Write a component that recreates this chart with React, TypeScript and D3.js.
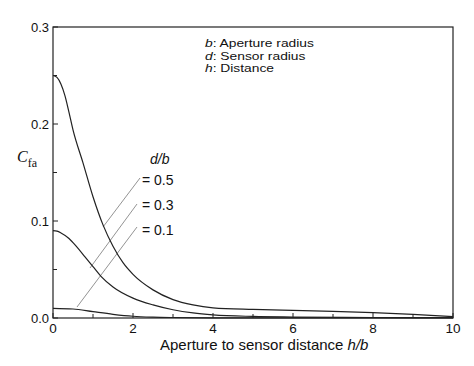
import React from "react";
import * as d3 from "d3";

const hA = [0, 0.1, 0.2, 0.3, 0.4, 0.5, 0.75, 1.0, 1.25, 1.5, 1.75, 2.0, 2.5, 3.0, 3.5, 4.0, 5, 6, 7, 8, 9, 10];
const c05 = [0.25, 0.248, 0.241, 0.229, 0.212, 0.194, 0.16, 0.125, 0.096, 0.074, 0.057, 0.045, 0.029, 0.019, 0.0135, 0.0105, 0.0088, 0.0078, 0.0068, 0.0056, 0.0038, 0.0015];
const hB = [0, 0.1, 0.2, 0.4, 0.6, 0.8, 1.0, 1.2, 1.5, 2.0, 2.5, 3.0, 3.5, 4, 5, 6, 8, 10];
const c03 = [0.09, 0.0895, 0.0877, 0.082, 0.073, 0.063, 0.053, 0.043, 0.032, 0.0205, 0.0135, 0.0085, 0.0052, 0.0032, 0.0016, 0.001, 0.0005, 0.0003];
const hC = [0, 0.5, 1.0, 1.5, 2.0, 2.5, 3.0, 4.0, 6, 10];
const c01 = [0.01, 0.0093, 0.0065, 0.0038, 0.0018, 0.0009, 0.0005, 0.0002, 0.0001, 0];
const xTicks = [0, 2, 4, 6, 8, 10];
const xMinor = [1, 3, 5, 7, 9];
const yTicks = [0, 0.1, 0.2, 0.3];
const yMinor = [0.05, 0.15, 0.25];
const legendLines = [["b", ": Aperture radius"], ["d", ": Sensor radius"], ["h", ": Distance"]];
const ratioLabels = ["= 0.5", "= 0.3", "= 0.1"];

export default function App() {
  const W = 474, H = 366;
  const L = 53, R = 453, T = 27, B = 318;
  const x = d3.scaleLinear().domain([0, 10]).range([L, R]);
  const y = d3.scaleLinear().domain([0, 0.3]).range([B, T]);
  const line = d3.line<number>().curve(d3.curveMonotoneX);
  const mk = (hs: number[], vs: number[]) => line(hs.map((h, i) => [x(h), y(vs[i])] as any) as any) || "";
  const font = "'Liberation Sans', Arial, Helvetica, sans-serif";
  const leaders = [
    [[140, 178], [103, 227]],
    [[137, 204], [90, 268]],
    [[137, 227], [77, 307]],
  ];
  return (
    <svg width={W} height={H} style={{ position: "absolute", left: 0, top: 0, background: "#fff" }} fontFamily={font}>
      <rect x={0} y={0} width={W} height={H} fill="#fff" />
      <rect x={L} y={T} width={R - L} height={B - T} fill="none" stroke="#222" strokeWidth={1.2} />
      {xTicks.map((t) => (
        <g key={"xt" + t}>
          <line x1={x(t)} x2={x(t)} y1={B} y2={B - 5} stroke="#222" />
          <text x={x(t)} y={333} fontSize={13.5} textAnchor="middle" fill="#111">{t}</text>
        </g>
      ))}
      {xMinor.map((t) => (
        <line key={"xm" + t} x1={x(t)} x2={x(t)} y1={B} y2={B - 4} stroke="#222" />
      ))}
      {yTicks.map((t) => (
        <g key={"yt" + t}>
          <line x1={L} x2={L + 5} y1={y(t)} y2={y(t)} stroke="#222" />
          <text x={49} y={y(t) + 4.5} fontSize={13} textAnchor="end" fill="#111">{t.toFixed(1)}</text>
        </g>
      ))}
      {yMinor.map((t) => (
        <line key={"ym" + t} x1={L} x2={L + 4} y1={y(t)} y2={y(t)} stroke="#222" />
      ))}
      {leaders.map((p, i) => (
        <line key={"ld" + i} x1={p[0][0]} y1={p[0][1]} x2={p[1][0]} y2={p[1][1]} stroke="#777" strokeWidth={0.8} />
      ))}
      <path d={mk(hA, c05)} fill="none" stroke="#222" strokeWidth={1.2} />
      <path d={mk(hB, c03)} fill="none" stroke="#222" strokeWidth={1.2} />
      <path d={mk(hC, c01)} fill="none" stroke="#222" strokeWidth={1.2} />
      {legendLines.map((l, i) => (
        <g key={"lg" + i} transform={`translate(205,${47 + i * 12.5}) scale(1.17,1)`}>
          <text x={0} y={0} fontSize={11.8} fill="#111">
            <tspan fontStyle="italic">{l[0]}</tspan>
            <tspan>{l[1]}</tspan>
          </text>
        </g>
      ))}
      <text x={150} y={164} fontSize={14} fontStyle="italic" fill="#111">d/b</text>
      {ratioLabels.map((s, i) => (
        <text key={"rl" + i} x={142} y={185 + i * 25} fontSize={14} fill="#111">{s}</text>
      ))}
      <text x={160} y={350} fontSize={15} fill="#111">
        <tspan>Aperture to sensor distance </tspan>
        <tspan fontStyle="italic">h/b</tspan>
      </text>
      <text x={17} y={162} fontFamily="'Liberation Serif', 'Times New Roman', serif" fill="#111">
        <tspan fontSize={16} fontStyle="italic">C</tspan>
        <tspan fontSize={12} dy={5}>fa</tspan>
      </text>
    </svg>
  );
}
